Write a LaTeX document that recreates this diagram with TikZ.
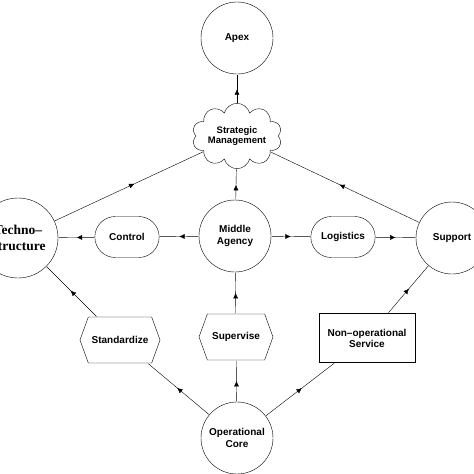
\documentclass[tikz,border=0pt]{standalone}
\usepackage{fontspec}
\setmainfont{Liberation Sans}
\newfontfamily\techfont{Liberation Serif}
\usetikzlibrary{shapes.geometric,shapes.symbols,shapes.misc,arrows.meta,decorations.markings}

\begin{document}
\begin{tikzpicture}[x=1pt, y=-1pt]
\tikzset{ >=Latex, line width=1.5pt, font=\bfseries\fontsize{10}{12}\selectfont,
  unit/.style={draw, circle, minimum size=72pt, inner sep=1pt, align=center},
  pill/.style={draw, rounded rectangle, minimum width=71pt, minimum height=41pt},
  hexa/.style={draw, signal, signal to=east and west, signal pointer angle=140, minimum width=74pt, minimum height=46pt},
  flow/.style={postaction={decorate}, decoration={markings, mark=at position 0.55 with {\arrow{Latex[length=8pt,width=7pt]}}}},
}

\useasboundingbox (0,0) rectangle (474,474);
\clip (0,0) rectangle (474,474);

\node [unit] (apex) at (237,38) {Apex};
\node [draw, cloud, cloud puffs=10, aspect=1.7, inner sep=0pt, minimum width=80pt, minimum height=47pt, align=center,
       font=\bfseries\fontsize{9.5}{10}\selectfont] (strat) at (237,136) {Strategic\\Management};
\node [unit] (mid) at (235,236) {Middle\\Agency};
\node [unit, minimum size=80pt, font=\techfont\bfseries\fontsize{13.5}{16}\selectfont] (tech) at (18,238) {Techno–\\Structure};
\node [unit] (sup) at (452,238) {Support};

\node [pill] (ctrl) at (127,237) {Control};
\node [pill] (logi) at (343,237) {Logistics};

\node [hexa] (std) at (120,340) {Standardize};
\node [hexa] (spv) at (236,337) {Supervise};
\node [draw, minimum width=96pt, minimum height=49pt, align=center,
       font=\bfseries\fontsize{10}{11}\selectfont] (nonop) at (367,338) {Non–operational\\Service};

\node [unit] (core) at (237,438) {Operational\\Core};

\draw [flow] (strat) -- (apex);
\draw [flow] (mid) -- (strat);
\draw [flow] (tech) -- (strat);
\draw [flow] (sup) -- (strat);

\draw [flow] (mid) -- (ctrl);
\draw [flow] (ctrl) -- (tech);
\draw [flow] (mid) -- (logi);
\draw [flow] (logi) -- (sup);

\draw [flow] (core) -- (std);
\draw [flow] (std) -- (tech);
\draw [flow] (core) -- (spv);
\draw [flow] (spv) -- (mid);
\draw [flow] (core) -- (nonop);
\draw [flow] (nonop) -- (sup);

\end{tikzpicture}
\end{document}
